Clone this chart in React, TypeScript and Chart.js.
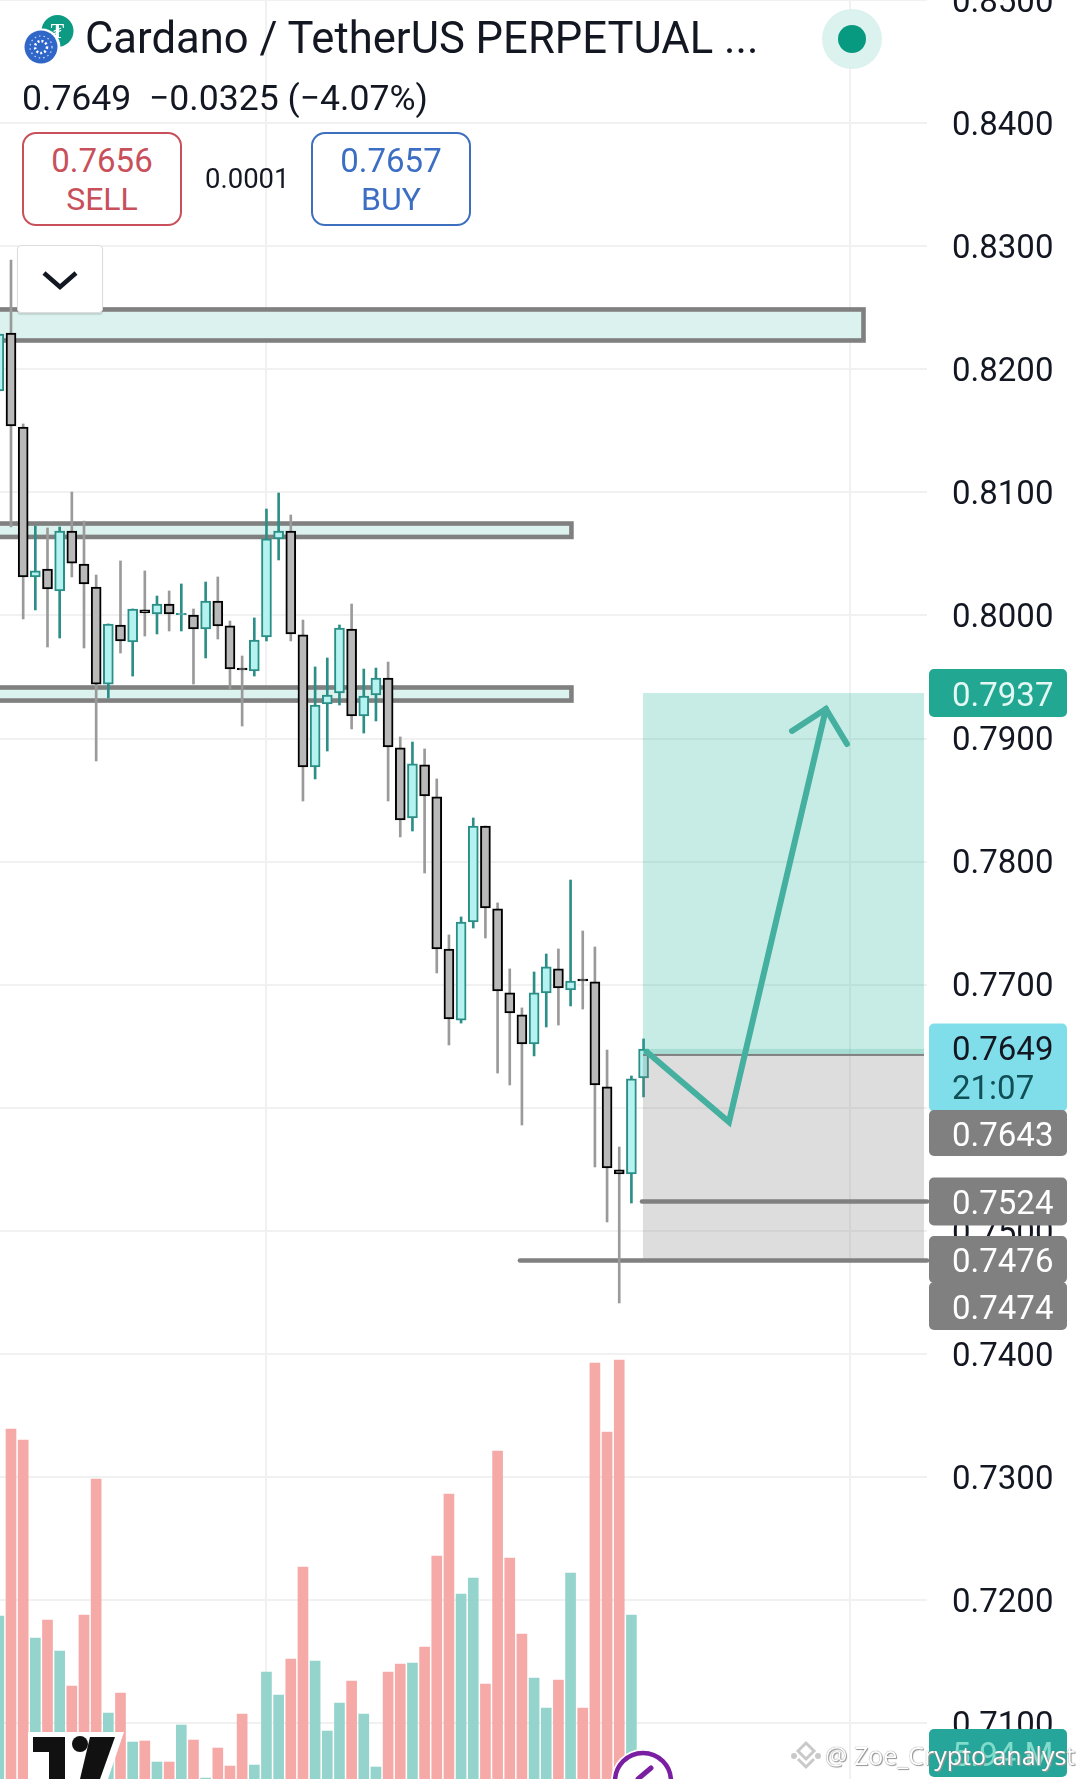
import React, { useEffect, useRef } from "react";
import { Chart, registerables } from "chart.js";

Chart.register(...registerables);

const opens = [0.81824,0.82295,0.81531,0.80313,0.80378,0.80199,0.80686,0.80418,0.80231,0.79443,0.79923,0.79785,0.80045,0.80012,0.80093,0.80006,0.80004,0.7989,0.80118,0.79915,0.79573,0.79549,0.79825,0.80622,0.80686,0.79842,0.78769,0.79281,0.7937,0.7989,0.79184,0.79354,0.79492,0.78924,0.78355,0.78786,0.78526,0.77291,0.76713,0.7751,0.7829,0.77616,0.76934,0.76755,0.76519,0.76934,0.77129,0.76958,0.77047,0.77023,0.7617,0.75496,0.75463,0.76243];
const closes = [0.82287,0.8154,0.80313,0.80362,0.80215,0.80686,0.80426,0.80256,0.79443,0.79931,0.79793,0.80053,0.8002,0.80093,0.80012,0.80018,0.7989,0.80118,0.79915,0.79565,0.79557,0.79801,0.80622,0.80686,0.7985,0.78769,0.79273,0.79354,0.79898,0.79184,0.79346,0.79492,0.78932,0.78339,0.78794,0.78534,0.77291,0.76722,0.7751,0.7829,0.77624,0.7695,0.76771,0.76519,0.76934,0.77145,0.76974,0.77031,0.77031,0.76186,0.75512,0.75463,0.76235,0.76478];
const highs = [0.82287,0.82888,0.81556,0.80727,0.80711,0.80719,0.81003,0.80767,0.80329,0.79931,0.80443,0.80053,0.80362,0.80158,0.80199,0.80256,0.80053,0.80272,0.80313,0.79955,0.79671,0.7998,0.80865,0.80995,0.80816,0.79963,0.79582,0.79655,0.79923,0.80093,0.79565,0.79573,0.79622,0.79013,0.78972,0.78916,0.78672,0.77405,0.77551,0.78355,0.7829,0.77665,0.77129,0.76812,0.77104,0.7725,0.77291,0.77851,0.77437,0.77307,0.7647,0.75682,0.76259,0.7656];
const lows = [0.81824,0.80719,0.79972,0.80045,0.79744,0.79817,0.80313,0.79736,0.78818,0.7933,0.79695,0.79508,0.79833,0.7985,0.79874,0.79874,0.79443,0.79655,0.79809,0.79403,0.79102,0.79508,0.79793,0.80451,0.79793,0.78493,0.78672,0.78899,0.79273,0.79078,0.79045,0.79143,0.78493,0.78201,0.78249,0.77908,0.77096,0.76511,0.76689,0.77461,0.7738,0.76283,0.76186,0.75861,0.76422,0.76657,0.76673,0.76828,0.76803,0.7552,0.75073,0.74415,0.75227,0.76089];
const volumesM = [23.29,46.96,45.57,20.51,22.78,18.86,14.43,23.42,40.63,11.01,13.54,7.34,7.47,4.81,4.81,9.49,7.59,2.78,6.58,4.3,10.89,4.43,16.2,13.29,17.85,29.49,17.59,8.73,12.28,15.06,10.89,4.18,16.2,17.22,17.34,19.37,30.89,38.73,26.08,28.1,14.68,44.18,30.63,21.01,15.44,11.65,15.19,28.73,11.65,55.32,46.58,55.7,23.42,5.94];
const bullishFlags = [1,0,0,1,0,1,0,0,0,1,0,1,0,1,0,1,0,1,0,0,0,1,1,1,0,0,1,1,1,0,1,1,0,0,1,0,0,0,1,1,0,0,0,0,1,1,0,1,0,0,0,0,1,1];

const priceTicksStep = 0.01;
const priceMax = 0.85;
const priceMin = 0.70548;
const volumeMin = 2.66;
const volumeMax = 227.85;
const indexMin = 0.095;
const indexMax = 76.3;
const verticalGridIndices = [22, 70];

const zones = [
  { top: 0.82486, bottom: 0.82234, end: 71.08 },
  { top: 0.80747, bottom: 0.80638, end: 47.07 },
  { top: 0.79415, bottom: 0.79309, end: 47.07 },
];
const stopLines = [
  { price: 0.7476, start: 42.84, end: 76.3 },
  { price: 0.7524, start: 52.87, end: 76.3 },
];
const position = { start: 52.95, end: 76.05, target: 0.7937, entry: 0.7643, stop: 0.7476 };
const arrowPath = [[53.28, 0.76454], [60.02, 0.75885], [67.99, 0.7924]];
const arrowBarbs = [[65.2, 0.79062], [67.99, 0.7924], [69.72, 0.78956]];

const priceTags = [
  { label: "0.7937", price: 0.7937, bg: "#22a792", fg: "#e3f7f3", shift: 0, h: 48 },
  { label: "0.7643", price: 0.7643, bg: "#808080", fg: "#ffffff", shift: 78, h: 46 },
  { label: "0.7524", price: 0.7524, bg: "#808080", fg: "#ffffff", shift: 0, h: 48 },
  { label: "0.7476", price: 0.7476, bg: "#808080", fg: "#ffffff", shift: -1, h: 47 },
  { label: "0.7474", price: 0.7474, bg: "#808080", fg: "#ffffff", shift: 43, h: 48 },
];

const UP_BODY = "#b4f3f0";
const UP_LINE = "#2b8f87";
const DOWN_BODY = "#b9b9b9";
const DOWN_LINE = "#000000";
const DOWN_WICK = "#9a9a9a";

const drawingsPlugin = {
  id: "drawings",
  beforeDatasetsDraw(chart: any) {
    const { ctx, scales } = chart;
    const px = scales.x;
    const py = scales.y;
    ctx.save();
    for (const z of zones) {
      const l = -10;
      const r = px.getPixelForValue(z.end);
      const t = py.getPixelForValue(z.top);
      const b = py.getPixelForValue(z.bottom);
      ctx.fillStyle = "#dcf2ee";
      ctx.fillRect(l, t, r - l, b - t);
      ctx.strokeStyle = "#808080";
      ctx.lineWidth = 4.6;
      ctx.strokeRect(l, t, r - l, b - t);
    }
    ctx.strokeStyle = "#808080";
    ctx.lineWidth = 4.6;
    ctx.lineCap = "round";
    for (const s of stopLines) {
      const y = py.getPixelForValue(s.price);
      ctx.beginPath();
      ctx.moveTo(px.getPixelForValue(s.start), y);
      ctx.lineTo(px.getPixelForValue(s.end), y);
      ctx.stroke();
    }
    ctx.restore();
  },
  afterDatasetsDraw(chart: any) {
    const { ctx, scales } = chart;
    const px = scales.x;
    const py = scales.y;
    const left = px.getPixelForValue(position.start);
    const right = px.getPixelForValue(position.end);
    const yT = py.getPixelForValue(position.target);
    const yE = py.getPixelForValue(position.entry);
    const yS = py.getPixelForValue(position.stop);
    ctx.save();
    ctx.fillStyle = "rgba(30,180,155,0.25)";
    ctx.fillRect(left, yT, right - left, yE - yT);
    ctx.fillStyle = "rgba(128,128,128,0.27)";
    ctx.fillRect(left, yE, right - left, yS - yE);
    ctx.fillStyle = "rgba(38,166,140,0.2)";
    ctx.fillRect(left, yE - 6, right - left, 5);
    ctx.fillStyle = "#808080";
    ctx.fillRect(left, yE - 1, right - left, 2);

    ctx.strokeStyle = "#45b09f";
    ctx.lineWidth = 6;
    ctx.lineCap = "round";
    ctx.lineJoin = "miter";
    for (const path of [arrowPath, arrowBarbs]) {
      ctx.beginPath();
      path.forEach(([i, p], k) => {
        const x = px.getPixelForValue(i);
        const y = py.getPixelForValue(p);
        if (k === 0) ctx.moveTo(x, y);
        else ctx.lineTo(x, y);
      });
      ctx.stroke();
    }

    const tagX = 929;
    const tagW = 138;
    const textX = 952;
    const textDrop = 3.4;
    ctx.textBaseline = "middle";
    ctx.textAlign = "left";
    ctx.font = "33px Roboto";

    const curY = py.getPixelForValue(0.7649);
    ctx.fillStyle = "#80deea";
    ctx.beginPath();
    ctx.roundRect(tagX, curY - 24, tagW, 88, 5);
    ctx.fill();

    for (const t of priceTags) {
      const y = py.getPixelForValue(t.price) + t.shift;
      ctx.fillStyle = t.bg;
      ctx.beginPath();
      ctx.roundRect(tagX, y - t.h / 2, tagW, t.h, 5);
      ctx.fill();
      ctx.fillStyle = t.fg;
      ctx.fillText(t.label, textX, y + 1 + textDrop);
    }
    ctx.fillStyle = "#131722";
    ctx.fillText("0.7649", textX, curY + 1 + textDrop);
    ctx.fillStyle = "#0f4f55";
    ctx.fillText("21:07", textX, curY + 40 + textDrop);

    ctx.fillStyle = "#26a69a";
    ctx.beginPath();
    ctx.roundRect(tagX, 1729, tagW, 48, 5);
    ctx.fill();
    ctx.fillStyle = "#82dccb";
    ctx.fillText("5.94 M", textX, 1754 + textDrop);
    ctx.restore();
  },
};

const boxStyle = (color: string, left: number): React.CSSProperties => ({
  position: "absolute",
  left,
  top: 132,
  width: 156,
  height: 90,
  border: `2px solid ${color}`,
  borderRadius: 14,
  background: "#fff",
  color,
  textAlign: "center",
});

const abs = (left: number, top: number, size: number, color: string, text: string) => (
  <div
    style={{
      position: "absolute",
      left,
      top,
      fontSize: size,
      color,
      lineHeight: `${Math.round(size * 1.2)}px`,
      whiteSpace: "pre",
    }}
  >
    {text}
  </div>
);

export default function App() {
  const ref = useRef<HTMLCanvasElement>(null);
  useEffect(() => {
    document.body.style.margin = "0";
    const idx = opens.map((_, i) => i);
    const isUp = (i: number) => bullishFlags[i] === 1;
    const chart = new Chart(ref.current!, {
      type: "bar",
      data: {
        datasets: [
          {
            label: "Volume",
            yAxisID: "v",
            order: 3,
            grouped: false,
            barThickness: 10,
            data: idx.map((i) => ({ x: i, y: volumesM[i] })),
            backgroundColor: idx.map((i) => (isUp(i) ? "#95d4cd" : "#f5aaa8")),
          },
          {
            label: "Wick",
            yAxisID: "y",
            order: 2,
            grouped: false,
            barThickness: 2,
            data: idx.map((i) => ({ x: i, y: [lows[i], highs[i]] })),
            backgroundColor: idx.map((i) => (isUp(i) ? UP_LINE : DOWN_WICK)),
          },
          {
            label: "Body",
            yAxisID: "y",
            order: 1,
            grouped: false,
            barThickness: 10,
            borderSkipped: false,
            borderWidth: 2,
            data: idx.map((i) => ({ x: i, y: [opens[i], closes[i]] })),
            backgroundColor: idx.map((i) => (isUp(i) ? UP_BODY : DOWN_BODY)),
            borderColor: idx.map((i) => (isUp(i) ? UP_LINE : DOWN_LINE)),
          },
        ] as any,
      },
      options: {
        animation: false,
        responsive: false,
        devicePixelRatio: 1,
        maintainAspectRatio: false,
        layout: { padding: 0 },
        plugins: { legend: { display: false }, tooltip: { enabled: false } },
        scales: {
          x: {
            type: "linear",
            min: indexMin,
            max: indexMax,
            offset: false,
            border: { display: false },
            grid: { color: "#f1f1f1", lineWidth: 2, drawTicks: false, offset: false },
            ticks: { display: false },
            afterBuildTicks: (s: any) => {
              s.ticks = verticalGridIndices.map((value) => ({ value }));
            },
            afterFit: (s: any) => {
              s.height = 0;
              s.paddingLeft = 0;
              s.paddingRight = 0;
              s.paddingTop = 0;
              s.paddingBottom = 0;
            },
          },
          y: {
            type: "linear",
            position: "right",
            min: priceMin,
            max: priceMax,
            border: { display: false },
            grid: { color: "#f1f1f1", lineWidth: 2, drawTicks: false },
            ticks: {
              stepSize: priceTicksStep,
              includeBounds: false,
              autoSkip: false,
              padding: 25,
              labelOffset: 3.4,
              color: "#131722",
              font: { family: "Roboto", size: 33 },
              callback: (v: any) => Number(v).toFixed(4),
            },
            afterFit: (s: any) => {
              s.width = 153;
              s.paddingLeft = 0;
              s.paddingRight = 0;
              s.paddingTop = 0;
              s.paddingBottom = 0;
            },
          },
          v: { type: "linear", display: false, min: volumeMin, max: volumeMax, position: "right" },
        },
      } as any,
      plugins: [drawingsPlugin],
    });
    return () => chart.destroy();
  }, []);

  return (
    <div style={{ position: "relative", width: 1080, height: 1779, overflow: "hidden", fontFamily: "Roboto, sans-serif", background: "#fff" }}>
      <canvas ref={ref} width={1080} height={1779} style={{ display: "block" }} />

      {/* header */}
      <svg width="90" height="70" style={{ position: "absolute", left: 10, top: 5 }}>
        <circle cx="47.5" cy="26" r="16" fill="#0d9a83" />
        <text x="47.5" y="33" textAnchor="middle" fontSize="20" fontWeight="700" fill="#fff" fontFamily="Roboto">₮</text>
        <circle cx="32" cy="42" r="18.5" fill="#fff" />
        <circle cx="31" cy="42" r="16.5" fill="#2f66c8" />
        <circle cx="31" cy="42" r="6" fill="none" stroke="#fff" strokeWidth="2.5" strokeDasharray="2 2" />
        <circle cx="31" cy="42" r="11" fill="none" stroke="#cfe0fb" strokeWidth="1.2" strokeDasharray="1.5 3" />
      </svg>
      {abs(85, 13, 43.6, "#131722", "Cardano / TetherUS PERPETUAL ...")}
      {abs(22, 77, 35.6, "#131722", "0.7649  −0.0325 (−4.07%)")}
      <div style={boxStyle("#c8505a", 22)}>
        <div style={{ fontSize: 33, lineHeight: "36px", marginTop: 9 }}>0.7656</div>
        <div style={{ fontSize: 32, lineHeight: "34px", marginTop: 3 }}>SELL</div>
      </div>
      {abs(205, 162, 27.5, "#131722", "0.0001")}
      <div style={boxStyle("#3d6fbf", 311)}>
        <div style={{ fontSize: 33, lineHeight: "36px", marginTop: 9, color: "#3c6ec4" }}>0.7657</div>
        <div style={{ fontSize: 32, lineHeight: "34px", marginTop: 3, color: "#3c6ec4" }}>BUY</div>
      </div>
      <svg width="64" height="64" style={{ position: "absolute", left: 820, top: 8 }}>
        <circle cx="32" cy="31" r="30" fill="#dcf2ee" />
        <circle cx="32" cy="31" r="14" fill="#089981" />
      </svg>

      {/* collapse button */}
      <div style={{ position: "absolute", left: 17, top: 245, width: 84, height: 66, background: "#fff", border: "1px solid #dcdcdc", borderRadius: 4, boxShadow: "0 2px 1px rgba(0,0,0,0.12)" }}>
        <svg width="84" height="66">
          <path d="M26 27 L42 41 L58 27" fill="none" stroke="#131722" strokeWidth="4.5" />
        </svg>
      </div>

      {/* TradingView mark */}
      <svg width="110" height="50" style={{ position: "absolute", left: 25, top: 1729 }}>
        <polygon points="3,3 99,3 83,50 3,50" fill="#fff" />
        <path d="M8 8 H40 V50 H24 V23 H8 Z" fill="#111" />
        <circle cx="55" cy="15" r="8" fill="#111" />
        <polygon points="65,8 90,8 75,50 55,50" fill="#111" />
      </svg>

      {/* check badge */}
      <svg width="76" height="60" style={{ position: "absolute", left: 605, top: 1719 }}>
        <circle cx="38" cy="62" r="32" fill="#fff" />
        <circle cx="38" cy="62" r="28" fill="#fff" stroke="#7b1fa2" strokeWidth="4.5" />
        <path d="M33 60 L46 49" fill="none" stroke="#7b1fa2" strokeWidth="5" strokeLinecap="round" />
      </svg>

      {/* watermark */}
      <svg width="32" height="32" style={{ position: "absolute", left: 790, top: 1740 }}>
        <g fill="none" stroke="#c9c9c9" strokeWidth="3">
          <path d="M16 3 L24 11 L16 19 L8 11 Z" />
          <path d="M8 19 L16 27 L24 19" />
          <circle cx="4" cy="16" r="1.5" />
          <circle cx="28" cy="16" r="1.5" />
        </g>
      </svg>
      <div
        style={{
          position: "absolute",
          left: 825,
          top: 1739,
          fontSize: 25,
          lineHeight: "32px",
          fontFamily: "'Open Sans', sans-serif",
          color: "#ffffff",
          whiteSpace: "pre",
          textShadow: "0 0 1px #666, 1px 1px 1px #999",
        }}
      >
        @ Zoe_Crypto analyst
      </div>
    </div>
  );
}
